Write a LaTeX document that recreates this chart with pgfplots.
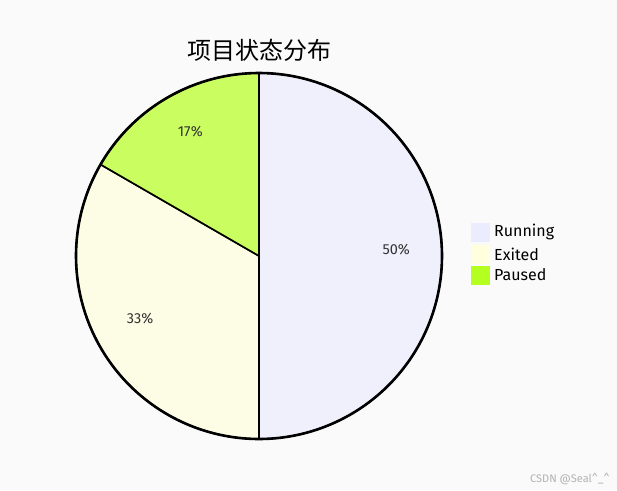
\documentclass[border=0pt]{standalone}
\usepackage{pgfplots}
\pgfplotsset{compat=1.18}
\usepackage{fontspec}
\setmainfont{Fira Sans}
\newfontfamily\cjk{Noto Sans CJK SC}
\definecolor{bg}{HTML}{FAFAFA}
\definecolor{crun}{HTML}{ECECFF}
\definecolor{cexit}{HTML}{FFFFDE}
\definecolor{cpause}{HTML}{B5FF20}
\definecolor{lbl}{HTML}{333333}
% counts per state
\def\vrun{3}
\def\vexit{2}
\def\vpause{1}
\begin{document}
\begin{tikzpicture}
\pgfmathsetmacro{\tot}{\vrun+\vexit+\vpause}
\pgfmathsetmacro{\aA}{360*\vrun/\tot}
\pgfmathsetmacro{\aB}{\aA+360*\vexit/\tot}
\def\cx{259}\def\cy{256}\def\R{183}
\begin{axis}[
    scale only axis, width=617pt, height=490pt,
    xmin=0, xmax=617, ymin=0, ymax=490, y dir=reverse,
    hide axis, clip=false,
]
\addplot[fill=bg, draw=none] coordinates {(0,0) (617,0) (617,490) (0,490)} -- cycle;
% slices, clockwise from 12 o'clock
\addplot[fill=crun, fill opacity=0.7, draw=black, line width=1.6pt, domain=0:\aA, samples=120, variable=\t]
    ({\cx+\R*sin(\t)}, {\cy-\R*cos(\t)}) -- (axis cs:\cx,\cy) -- cycle;
\addplot[fill=cexit, fill opacity=0.7, draw=black, line width=1.6pt, domain=\aA:\aB, samples=80, variable=\t]
    ({\cx+\R*sin(\t)}, {\cy-\R*cos(\t)}) -- (axis cs:\cx,\cy) -- cycle;
\addplot[fill=cpause, fill opacity=0.7, draw=black, line width=1.6pt, domain=\aB:360, samples=40, variable=\t]
    ({\cx+\R*sin(\t)}, {\cy-\R*cos(\t)}) -- (axis cs:\cx,\cy) -- cycle;
\addplot[draw=black, line width=2.6pt, domain=0:360, samples=240, variable=\t]
    ({\cx+\R*sin(\t)}, {\cy-\R*cos(\t)});
% percentage labels
\pgfmathsetmacro{\mA}{\aA/2}
\pgfmathsetmacro{\mB}{(\aA+\aB)/2}
\pgfmathsetmacro{\mC}{(\aB+360)/2}
\tikzset{pct/.style={text=lbl, inner sep=0pt, font=\fontsize{14.5pt}{16pt}\selectfont}}
\node[pct] at (axis cs:{\cx+0.75*\R*sin(\mA)},{\cy-6-0.75*\R*cos(\mA)}) {50\%};
\node[pct] at (axis cs:{\cx+0.75*\R*sin(\mB)},{\cy-6-0.75*\R*cos(\mB)}) {33\%};
\node[pct] at (axis cs:{\cx+0.75*\R*sin(\mC)},{\cy-6-0.75*\R*cos(\mC)}) {17\%};
% title
\node[font=\cjk\fontsize{24pt}{28pt}\selectfont] at (axis cs:259,50) {项目状态分布};
% legend
\fill[crun] (axis cs:471,223) rectangle (axis cs:490,242);
\fill[cexit] (axis cs:471,245) rectangle (axis cs:490,264);
\fill[cpause] (axis cs:471,266) rectangle (axis cs:490,285);
\tikzset{leg/.style={anchor=west, inner sep=0pt, font=\fontsize{16pt}{18pt}\selectfont}}
\node[leg] at (axis cs:494,232) {Running};
\node[leg] at (axis cs:494,254) {Exited};
\node[leg] at (axis cs:494,275) {Paused};
% watermark
\node[anchor=east, text=black!30, font=\fontsize{11pt}{12pt}\selectfont] at (axis cs:613,479) {CSDN @Seal\^{}\_\^{}};
\end{axis}
\end{tikzpicture}
\end{document}
